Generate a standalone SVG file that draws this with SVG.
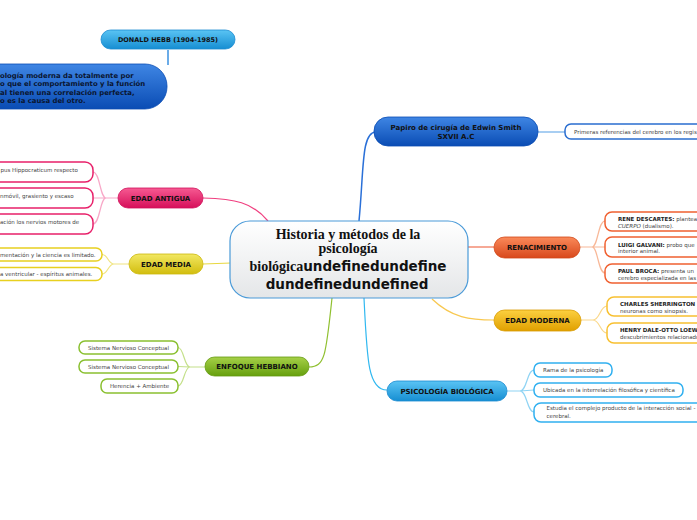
<svg xmlns="http://www.w3.org/2000/svg" width="697" height="520" viewBox="0 0 697 520">
<defs>
<linearGradient id="gCenter" x1="0" y1="0" x2="0" y2="1"><stop offset="0" stop-color="#ffffff"/><stop offset="1" stop-color="#e4e6e8"/></linearGradient>
<linearGradient id="gDark" x1="0" y1="0" x2="0" y2="1"><stop offset="0" stop-color="#3f86e4"/><stop offset="1" stop-color="#0a4cb4"/></linearGradient>
<linearGradient id="gLight" x1="0" y1="0" x2="0" y2="1"><stop offset="0" stop-color="#5ac4f4"/><stop offset="1" stop-color="#168ed2"/></linearGradient>
<linearGradient id="gPink" x1="0" y1="0" x2="0" y2="1"><stop offset="0" stop-color="#f65a92"/><stop offset="1" stop-color="#d60f5a"/></linearGradient>
<linearGradient id="gYellow" x1="0" y1="0" x2="0" y2="1"><stop offset="0" stop-color="#f2e862"/><stop offset="1" stop-color="#d2bd0e"/></linearGradient>
<linearGradient id="gOrange" x1="0" y1="0" x2="0" y2="1"><stop offset="0" stop-color="#fa8a5a"/><stop offset="1" stop-color="#d8481c"/></linearGradient>
<linearGradient id="gAmber" x1="0" y1="0" x2="0" y2="1"><stop offset="0" stop-color="#fcd040"/><stop offset="1" stop-color="#e0a000"/></linearGradient>
<linearGradient id="gGreen" x1="0" y1="0" x2="0" y2="1"><stop offset="0" stop-color="#a6d048"/><stop offset="1" stop-color="#66a00e"/></linearGradient>
</defs>
<style>
.lbl{font-family:"DejaVu Sans",Verdana,sans-serif;font-weight:bold;font-size:7px;fill:#111;text-anchor:middle;dominant-baseline:central}
.sm{font-family:"DejaVu Sans",Verdana,sans-serif;font-size:5.5px;fill:#444}
.smb{font-weight:bold;fill:#222}
.box{fill:#fff;stroke-width:1.5}
.c{fill:none}
</style>
<g id="connectors">
<path class="c" d="M168,50 L168,65" stroke="#3a90e0" stroke-width="1.5"/>
<path class="c" d="M359,221 C364,170 361,132 376,132" stroke="#2a70d8" stroke-width="1.5"/>
<path class="c" d="M538,132 L565,132" stroke="#a8cef2" stroke-width="2"/>
<path class="c" d="M268,221 C252,202 235,199 203,198" stroke="#f04080" stroke-width="1.2"/>
<path class="c" d="M118,198 L106,198 C100,198 100,172 93,172 M106,198 L93,198 M106,198 C100,198 100,224 93,224" stroke="#f8a8c8" stroke-width="1.2"/>
<path class="c" d="M231,263 L203,264" stroke="#e8d840" stroke-width="1.2"/>
<path class="c" d="M129,264 L114,264 C108,264 108,254.5 102,254.5 M114,264 C108,264 108,274 102,274" stroke="#f0e480" stroke-width="1.2"/>
<path class="c" d="M467,247 L494,247" stroke="#f07050" stroke-width="1.2"/>
<path class="c" d="M580,247 L592,247 C598,247 598,221 605,221 M592,247 L605,247 M592,247 C598,247 598,273 605,273" stroke="#f8b898" stroke-width="1.2"/>
<path class="c" d="M432,299 C452,318 470,320 494,320" stroke="#f8c850" stroke-width="1.2"/>
<path class="c" d="M581,320 L593,320 C600,320 600,306 607,306 M593,320 C600,320 600,333 607,333" stroke="#fad88a" stroke-width="1.2"/>
<path class="c" d="M364,298 C367,360 368,390 387,390" stroke="#30b8f0" stroke-width="1.2"/>
<path class="c" d="M507,391 L520,391 C527,391 527,370 534,370 M520,391 L534,390 M520,391 C527,391 527,412 534,412" stroke="#90d4f4" stroke-width="1.2"/>
<path class="c" d="M332,298 C326,355 325,367 309,367" stroke="#90c030" stroke-width="1.2"/>
<path class="c" d="M205,367 L190,367 C184,367 184,347.5 178,347.5 M190,367 L178,366.5 M190,367 C184,367 184,386 178,386" stroke="#c4e08a" stroke-width="1.2"/>
</g>
<g id="center">
<rect x="230" y="221" width="238" height="77" rx="20" fill="url(#gCenter)" stroke="#4a9ad8" stroke-width="1.2"/>
<text x="348" y="239" text-anchor="middle" style="font-family:'Liberation Serif','Times New Roman',serif;font-weight:bold;font-size:14px" fill="#111">Historia y métodos de la</text>
<text x="348" y="253" text-anchor="middle" style="font-family:'Liberation Serif','Times New Roman',serif;font-weight:bold;font-size:14px" fill="#111">psicología</text>
<text x="348" y="271" text-anchor="middle" fill="#111" style="font-weight:bold"><tspan style="font-family:'Liberation Serif','Times New Roman',serif;font-size:14px">biológica</tspan><tspan style="font-family:'DejaVu Sans',Verdana,sans-serif;font-size:13.5px">undefinedundefine</tspan></text>
<text x="347" y="289" text-anchor="middle" fill="#111" style="font-family:'DejaVu Sans',Verdana,sans-serif;font-weight:bold;font-size:13.5px">dundefinedundefined</text>
</g>
<g id="donald-hebb">
<rect x="101" y="30" width="134" height="19" rx="9.5" fill="url(#gLight)" stroke="#1a8ad0" stroke-width="0.8"/>
<text class="lbl" x="168" y="40" style="font-size:6.5px" fill="#0c1a3a">DONALD HEBB (1904-1985)</text>
</g>
<g id="hebb-note">
<rect x="-40" y="64" width="207" height="45" rx="22" fill="url(#gDark)" stroke="#0a4cb4" stroke-width="0.8"/>
<g style="font-family:'DejaVu Sans',Verdana,sans-serif;font-weight:bold;font-size:6.9px" fill="#0a1530">
<text x="0" y="77.5">ología moderna da totalmente por</text>
<text x="0" y="86">o que el comportamiento y la función</text>
<text x="0" y="94.5">al tienen una correlación perfecta,</text>
<text x="0" y="103">o es la causa del otro.</text>
</g>
</g>
<g id="papiro">
<rect x="374" y="117" width="164" height="29" rx="14" fill="url(#gDark)" stroke="#0a4cb4" stroke-width="0.8"/>
<text class="lbl" x="456" y="128">Papiro de cirugía de Edwin Smith</text>
<text class="lbl" x="456" y="137">SXVII A.C</text>
</g>
<g id="papiro-child">
<rect class="box" x="565" y="124" width="160" height="15" rx="6" stroke="#2a6ed0"/>
<text class="sm" x="574" y="133.5">Primeras referencias del cerebro en los regis</text>
</g>
<g id="edad-antigua">
<rect x="118" y="188" width="85" height="20" rx="10" fill="url(#gPink)" stroke="#d0105a" stroke-width="0.8"/>
<text class="lbl" x="160.5" y="198.5">EDAD ANTIGUA</text>
</g>
<g id="antigua-children">
<rect class="box" x="-20" y="162" width="113" height="20" rx="8" stroke="#e8206a"/>
<text class="sm" x="0.5" y="172">pus Hippocraticum respecto</text>
<rect class="box" x="-20" y="188" width="113" height="20" rx="8" stroke="#e8206a"/>
<text class="sm" x="0" y="198">nmóvil, grasiento y escaso</text>
<rect class="box" x="-20" y="214" width="113" height="20" rx="8" stroke="#e8206a"/>
<text class="sm" x="0" y="224">ación los nervios motores de</text>
</g>
<g id="edad-media">
<rect x="129" y="254" width="74" height="20" rx="10" fill="url(#gYellow)" stroke="#ccb80c" stroke-width="0.8"/>
<text class="lbl" x="166" y="264.5">EDAD MEDIA</text>
</g>
<g id="media-children">
<rect class="box" x="-20" y="248" width="122" height="13" rx="6" stroke="#e8d020"/>
<text class="sm" x="0" y="256.5">mentación y la ciencia es limitado.</text>
<rect class="box" x="-20" y="267.5" width="122" height="13" rx="6" stroke="#e8d020"/>
<text class="sm" x="0" y="276">a ventricular - espíritus animales.</text>
</g>
<g id="renacimiento">
<rect x="494" y="237" width="86" height="21" rx="10.5" fill="url(#gOrange)" stroke="#d04818" stroke-width="0.8"/>
<text class="lbl" x="537" y="247.5">RENACIMIENTO</text>
</g>
<g id="renacimiento-children">
<rect class="box" x="605" y="212" width="120" height="19" rx="7" stroke="#f06030"/>
<text class="sm" x="618" y="221"><tspan class="smb">RENE DESCARTES:</tspan> plantea</text>
<text class="sm" x="618" y="227.5"><tspan style="font-style:italic">CUERPO</tspan> (dualismo).</text>
<rect class="box" x="605" y="237" width="120" height="20" rx="7" stroke="#f06030"/>
<text class="sm" x="618" y="246.5"><tspan class="smb">LUIGI GALVANI:</tspan> probo que</text>
<text class="sm" x="618" y="253">interior animal.</text>
<rect class="box" x="605" y="264" width="120" height="19" rx="7" stroke="#f06030"/>
<text class="sm" x="618" y="273"><tspan class="smb">PAUL BROCA:</tspan> presenta un</text>
<text class="sm" x="618" y="279.5">cerebro especializada en las</text>
</g>
<g id="edad-moderna">
<rect x="494" y="310" width="87" height="21" rx="10.5" fill="url(#gAmber)" stroke="#d89a00" stroke-width="0.8"/>
<text class="lbl" x="537.5" y="320.5">EDAD MODERNA</text>
</g>
<g id="moderna-children">
<rect class="box" x="607" y="297" width="120" height="19" rx="7" stroke="#f8c030"/>
<text class="sm" x="620" y="306.3"><tspan class="smb">CHARLES SHERRINGTON</tspan></text>
<text class="sm" x="620" y="312.8">neuronas como sinopsis.</text>
<rect class="box" x="607" y="323" width="120" height="20" rx="7" stroke="#f8c030"/>
<text class="sm" x="620" y="331.8"><tspan class="smb">HENRY DALE-OTTO LOEW</tspan></text>
<text class="sm" x="620" y="338.8">descubrimientos relacionado</text>
</g>
<g id="psicologia-biologica">
<rect x="387" y="381" width="120" height="20" rx="10" fill="url(#gLight)" stroke="#1a8ad0" stroke-width="0.8"/>
<text class="lbl" x="447" y="391.5">PSICOLOGÍA BIOLÓGICA</text>
</g>
<g id="psicologia-children">
<rect class="box" x="534" y="363" width="78" height="14" rx="6" stroke="#30b0f0"/>
<text class="sm" x="543" y="372">Rama de la psicología</text>
<rect class="box" x="534" y="383" width="149" height="14" rx="6" stroke="#30b0f0"/>
<text class="sm" x="543" y="392">Ubicada en la interrelación filosófica y científica</text>
<rect class="box" x="534" y="403" width="190" height="19" rx="7" stroke="#30b0f0"/>
<text class="sm" x="546.5" y="410.3">Estudia el complejo producto de la interacción social -</text>
<text class="sm" x="546.5" y="418.3">cerebral.</text>
</g>
<g id="enfoque-hebbiano">
<rect x="205" y="357" width="104" height="19" rx="9.5" fill="url(#gGreen)" stroke="#649a10" stroke-width="0.8"/>
<text class="lbl" x="257" y="367">ENFOQUE HEBBIANO</text>
</g>
<g id="enfoque-children">
<rect class="box" x="79" y="341" width="99" height="13" rx="6" stroke="#8ac030"/>
<text class="sm" x="128.5" y="349.5" text-anchor="middle">Sistema Nervioso Conceptual</text>
<rect class="box" x="79" y="360" width="99" height="13" rx="6" stroke="#8ac030"/>
<text class="sm" x="128.5" y="368.5" text-anchor="middle">Sistema Nervioso Conceptual</text>
<rect class="box" x="101" y="379" width="77" height="14" rx="6" stroke="#8ac030"/>
<text class="sm" x="139.5" y="388" text-anchor="middle">Herencia + Ambiente</text>
</g>
</svg>
